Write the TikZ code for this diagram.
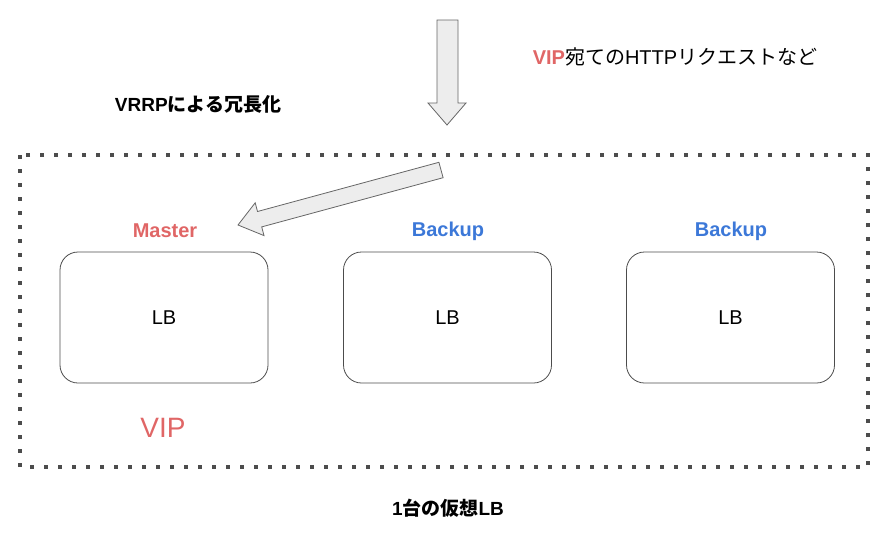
\documentclass[tikz,border=0pt]{standalone}
\usepackage{fontspec}
\setmainfont{Liberation Sans}
\newfontfamily\cjk{Noto Sans CJK JP}
\definecolor{vred}{HTML}{E06666}
\definecolor{vblue}{HTML}{3C78D8}
\begin{document}
\begin{tikzpicture}[x=1pt,y=-1pt,
  lb/.style={draw=black!70,rounded corners=18pt,minimum width=208pt,minimum height=131pt,font=\fontsize{20}{24}\selectfont,line width=0.8pt},
  lab/.style={font=\bfseries\fontsize{20}{24}\selectfont},
  blk/.style={fill=black!7,draw=black!60,line width=0.8pt}]
\useasboundingbox (0,0) rectangle (890,538);
\draw[black!70,line width=4pt,dash pattern=on 4pt off 10pt] (20,155) rectangle (868,467);
\node[lb] (a) at (164,317.5) {LB};
\node[lb] (b) at (447.5,317.5) {LB};
\node[lb] (c) at (730.5,317.5) {LB};
\node[lab,text=vred] (ma) at (165,231) {Master};
\node[lab,text=vblue] (ba) at (448,231) {Backup};
\node[lab,text=vblue] (bb) at (731,231) {Backup};
\node[font=\fontsize{28}{32}\selectfont,text=vred] (vip) at (163,428) {VIP};
\node[font=\bfseries\fontsize{19}{24}\selectfont] (t1) at (198,104) {VRRP\cjk による冗長化};
\node[font=\fontsize{20}{24}\selectfont] (t2) at (675,57) {\textcolor{vred}{\bfseries VIP}\cjk 宛ての\rmfamily HTTP\cjk リクエストなど};
\node[font=\bfseries\fontsize{19}{24}\selectfont] (t3) at (448,508) {1\cjk 台の仮想\rmfamily LB};
\draw[blk] (437,20) -- (458,20) -- (458,103) -- (466,103) -- (447,125) -- (428,103) -- (437,103) -- cycle;
\draw[blk] (443.1,177.7) -- (261.7,226.9) -- (264.0,235.6) -- (238,225) -- (255.2,202.8) -- (257.5,211.5) -- (438.9,162.3) -- cycle;
\end{tikzpicture}
\end{document}
